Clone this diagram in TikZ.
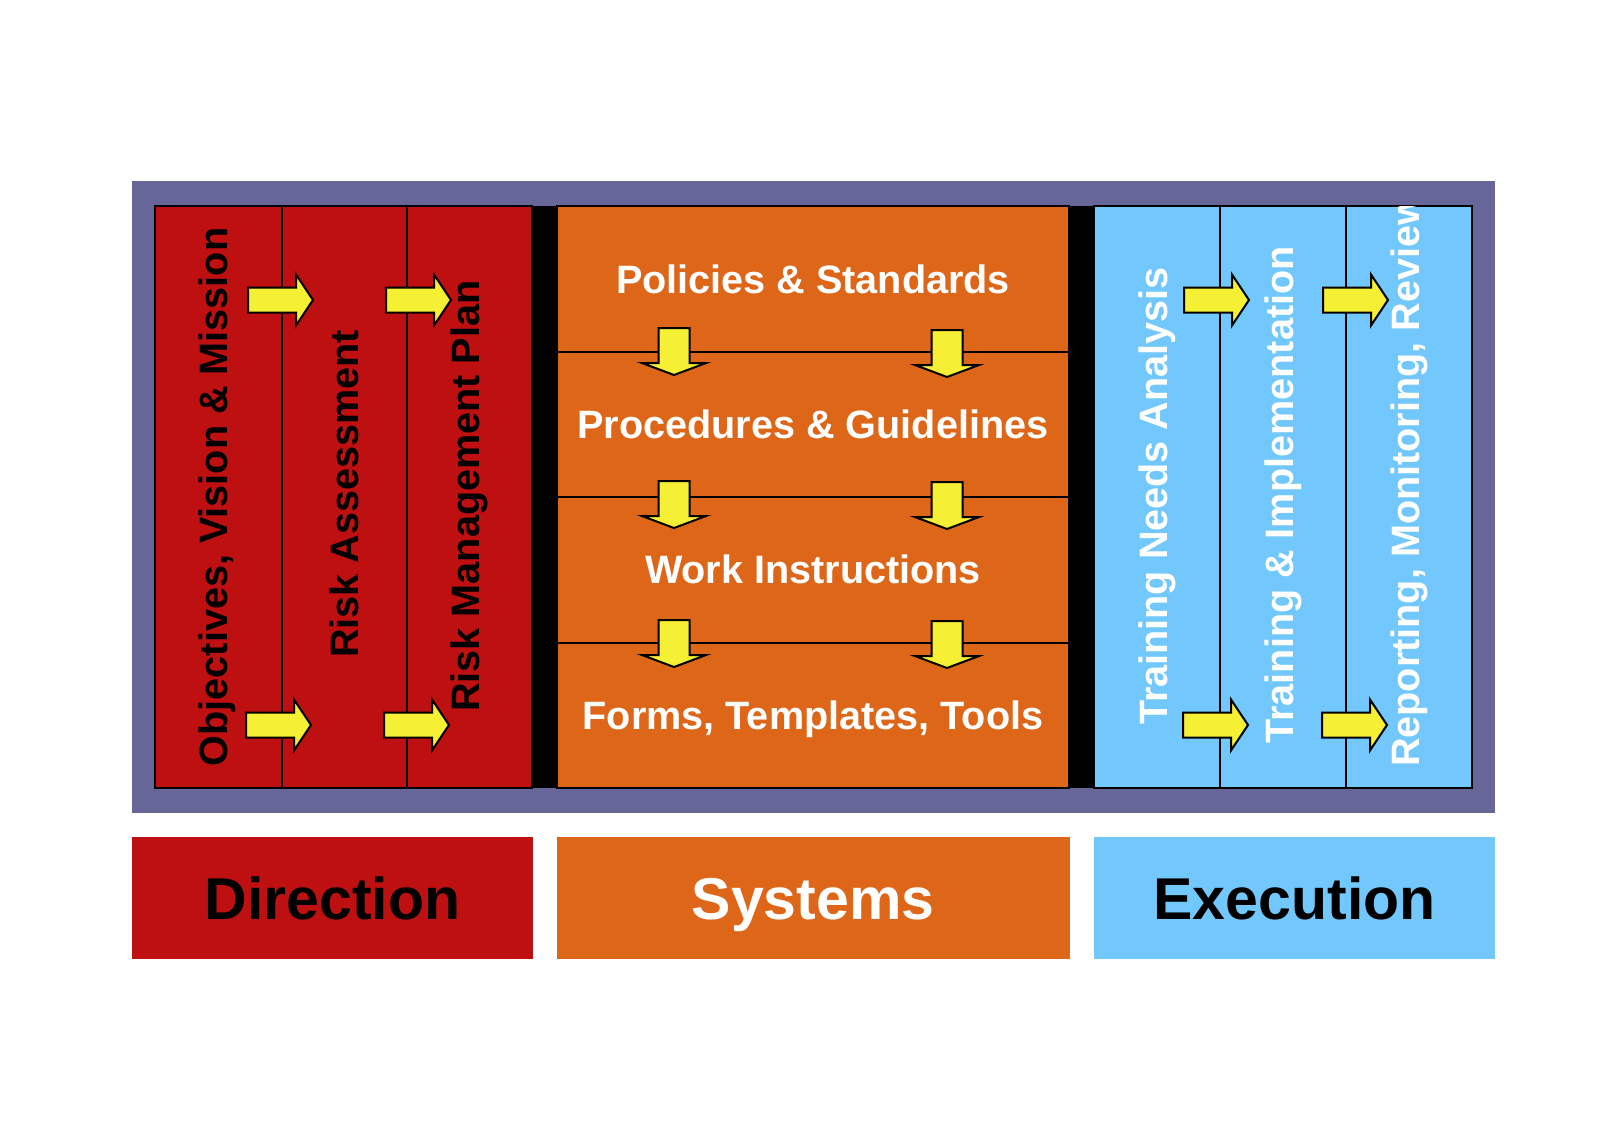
\documentclass[tikz,border=0pt]{standalone}
\usepackage{fontspec}
\setmainfont{Liberation Sans}
\definecolor{frameC}{RGB}{102,102,153}
\definecolor{redC}{RGB}{190,16,16}
\definecolor{orangeC}{RGB}{222,102,24}
\definecolor{blueC}{RGB}{114,200,252}
\definecolor{yellowC}{RGB}{246,240,52}
\tikzset{
  divline/.style={line width=1.5pt, draw=black},
  arrowfill/.style={fill=yellowC, draw=black, line width=2pt, line join=miter},
  rarrow/.pic={\path[arrowfill] (0,-12.5) -- (48,-12.5) -- (48,-25.5) -- (65,0) -- (48,25.5) -- (48,12.5) -- (0,12.5) -- cycle;},
  darrow/.pic={\path[arrowfill] (-15.5,0) -- (15.5,0) -- (15.5,35) -- (32,35) -- (0,47) -- (-32,35) -- (-15.5,35) -- cycle;},
  coltext/.style={rotate=90, font=\bfseries\fontsize{39.6}{44}\selectfont, inner sep=0pt},
  rowtext/.style={font=\bfseries\fontsize{39.6}{44}\selectfont, text=white, inner sep=0pt, text height=28.5pt, text depth=0pt},
  labelbox/.style={font=\bfseries\fontsize{59}{66}\selectfont, inner sep=0pt, minimum width=401pt, minimum height=122pt, draw=none, text height=42.5pt, text depth=0pt},
}
\begin{document}
\begin{tikzpicture}[x=1pt,y=-1pt]
\useasboundingbox (0,0) rectangle (1600,1130);
\fill[white] (0,0) rectangle (1600,1130);
% frame
\fill[frameC] (132,181) rectangle (1495,813);
\fill[black] (155,206) rectangle (1472,788);
% direction panel
\fill[redC] (155,206) rectangle (532,788);
\draw[divline] (155,206) rectangle (532,788);
\draw[divline] (282,206) -- (282,788);
\draw[divline] (407,206) -- (407,788);
% systems panel
\fill[orangeC] (557,206) rectangle (1069,788);
\draw[divline] (557,206) rectangle (1069,788);
\draw[divline] (557,352) -- (1069,352);
\draw[divline] (557,497) -- (1069,497);
\draw[divline] (557,643) -- (1069,643);
% execution panel
\fill[blueC] (1094,206) rectangle (1472,788);
\draw[divline] (1094,206) rectangle (1472,788);
\draw[divline] (1220,206) -- (1220,788);
\draw[divline] (1346,206) -- (1346,788);
% column texts
\node[coltext] (obj) at (217,497) {Objectives, Vision \& Mission};
\node[coltext] (risk) at (344,494) {Risk Assessment};
\node[coltext] (plan) at (469,496) {Risk Management Plan};
\node[coltext, text=white] (tna) at (1157,496) {Training Needs Analysis};
\node[coltext, text=white] (impl) at (1283,495) {Training \& Implementation};
\begin{scope}
\clip (1094,206) rectangle (1472,788);
\node[coltext, text=white, anchor=west] (rep) at (1409,767) {Reporting, Monitoring, Review};
\end{scope}
% row texts
\node[rowtext] (pol) at (813,279) {Policies \& Standards};
\node[rowtext] (proc) at (813,424) {Procedures \& Guidelines};
\node[rowtext] (work) at (813,569) {Work Instructions};
\node[rowtext] (forms) at (813,715) {Forms, Templates, Tools};
% right arrows
\pic at (248,300) {rarrow};
\pic at (386,300) {rarrow};
\pic at (246,725) {rarrow};
\pic at (384,725) {rarrow};
\pic at (1184,300) {rarrow};
\pic at (1323,300) {rarrow};
\pic at (1183,725) {rarrow};
\pic at (1322,725) {rarrow};
% down arrows
\pic at (674,328) {darrow};
\pic at (947,330) {darrow};
\pic at (674,481) {darrow};
\pic at (947,482) {darrow};
\pic at (674,620) {darrow};
\pic at (947,621) {darrow};
% labels
\node[labelbox, fill=redC, text=black] (direction) at (332.5,898) {Direction};
\node[labelbox, fill=orangeC, text=white, minimum width=513pt] (systems) at (813,898) {Systems};
\node[labelbox, fill=blueC, text=black] (execution) at (1294.5,898) {Execution};
\end{tikzpicture}
\end{document}
